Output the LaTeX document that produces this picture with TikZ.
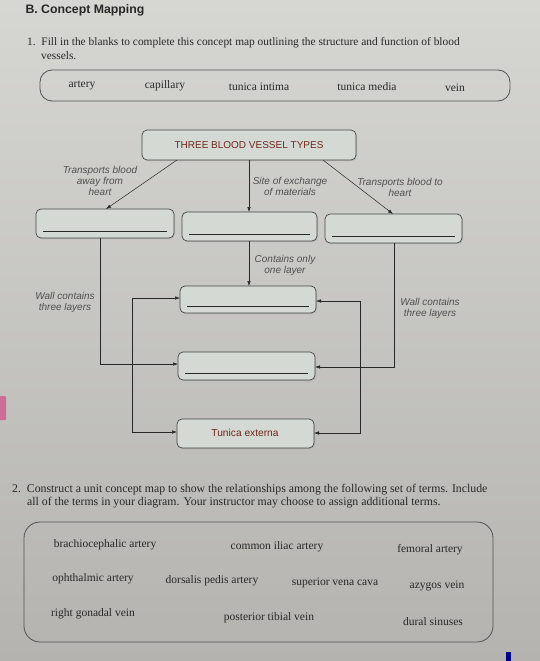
\documentclass[tikz,border=0pt]{standalone}
\usepackage{fontspec}
\setmainfont{Liberation Serif}
\newfontfamily\hv{Liberation Sans}
\usetikzlibrary{arrows.meta,shadows}
\definecolor{papertop}{RGB}{214,214,211}
\definecolor{paperbot}{RGB}{180,179,175}
\definecolor{boxfill}{RGB}{212,217,211}
\definecolor{boxline}{RGB}{70,70,70}
\definecolor{labgray}{RGB}{80,80,80}
\definecolor{darkred}{RGB}{110,40,30}
\definecolor{inkc}{RGB}{40,40,40}
\definecolor{pinkmark}{RGB}{205,110,150}
\tikzset{
  cbox/.style={draw=boxline, line width=0.7pt, fill=boxfill, rounded corners=5pt,
    drop shadow={opacity=0.25, shadow xshift=1pt, shadow yshift=-1pt}},
  lab/.style={font=\hv\itshape\fontsize{10}{11}\selectfont, text=labgray, align=center, inner sep=0pt},
  term/.style={font=\fontsize{11.5}{12}\selectfont, text=inkc, inner sep=0pt},
  conn/.style={draw=inkc, line width=0.5pt},
  arr/.style={conn, -{Latex[length=5pt,width=3.5pt]}},
  blank/.style={draw=inkc, line width=0.6pt},
  termbox/.style={draw=inkc!80, line width=0.8pt, rounded corners=12pt},
  qtext/.style={anchor=west, text=inkc, inner sep=0pt},
}
\begin{document}
\begin{tikzpicture}[x=1pt,y=-1pt]
\useasboundingbox (0,0) rectangle (540,661);
\shade[top color=papertop, bottom color=paperbot] (0,0) rectangle (540,661);
% artifacts
\fill[pinkmark, rounded corners=1pt] (-2,396) rectangle (6,420);
\fill[blue!55!black] (506,652) rectangle (511,661);

% header and question 1
\node[anchor=west, font=\hv\bfseries\fontsize{12.3}{13}\selectfont, text=inkc] (hdr) at (22,10) {B. Concept Mapping};
\node[qtext, font=\fontsize{11.4}{12}\selectfont] (q1a) at (27,43) {1.\ \ Fill in the blanks to complete this concept map outlining the structure and function of blood};
\node[qtext, font=\fontsize{11.4}{12}\selectfont] (q1b) at (41,56) {vessels.};

% term box 1
\draw[termbox] (40,70) rectangle (510,101);
\node[term] (t1) at (82,86) {artery};
\node[term] (t2) at (165,86) {capillary};
\node[term] (t3) at (259,87) {tunica intima};
\node[term] (t4) at (367,87) {tunica media};
\node[term] (t5) at (455,88) {vein};

% concept map
\draw[cbox] (142,130) rectangle (356,160);
\node[font=\hv\fontsize{10}{11}\selectfont, text=darkred] (top) at (249,145) {THREE BLOOD VESSEL TYPES};
\coordinate (topL) at (177,160);
\coordinate (topM) at (249,160);
\coordinate (topR) at (323,160);

\draw[cbox] (36,209) rectangle (174,238);
\draw[blank] (43,231) -- (167,231);
\coordinate (artT) at (106,209);
\coordinate (artB) at (100,238);

\draw[cbox] (182,212) rectangle (317,241);
\draw[blank] (189,234) -- (310,234);
\coordinate (capT) at (249,212);
\coordinate (capB) at (249,241);

\draw[cbox] (325,214) rectangle (462,243);
\draw[blank] (332,236) -- (455,236);
\coordinate (veinT) at (393,214);
\coordinate (veinB) at (394,243);

\draw[arr] (topL) -- (artT);
\draw[arr] (topM) -- (capT);
\draw[arr] (topR) -- (veinT);

\node[lab] (l1) at (100,181) {Transports blood\\away from\\heart};
\node[lab] (l2) at (290,186) {Site of exchange\\of materials};
\node[lab] (l3) at (400,187) {Transports blood to\\heart};

% layers
\draw[cbox] (180,286) rectangle (316,313);
\draw[blank] (187,306) -- (309,306);
\draw[cbox] (178,352) rectangle (315,380);
\draw[blank] (185,373) -- (308,373);
\draw[cbox] (177,419) rectangle (314,448);
\node[font=\hv\fontsize{10.2}{11}\selectfont, text=darkred] (ext) at (245,433) {Tunica externa};

\coordinate (intT) at (249,286);
\draw[arr] (capB) -- (intT);
\node[lab] (l4) at (285,265) {Contains only\\one layer};

% left side
\draw[arr] (artB) -- (100,364) -- (178,364);
\draw[arr] (132,298) -- (180,298);
\draw[arr] (132,298) -- (132,432) -- (177,432);
\node[lab] (l5) at (65,302) {Wall contains\\three layers};

% right side
\draw[arr] (veinB) -- (394,367) -- (315,367);
\draw[arr] (360,301) -- (316,301);
\draw[arr] (360,301) -- (360,433) -- (314,433);
\node[lab] (l6) at (430,308) {Wall contains\\three layers};

% question 2
\node[qtext, font=\fontsize{11.8}{12}\selectfont] (q2a) at (12,490) {2.\ \ Construct a unit concept map to show the relationships among the following set of terms. Include};
\node[qtext, font=\fontsize{11.8}{12}\selectfont] (q2b) at (27,503) {all of the terms in your diagram. Your instructor may choose to assign additional terms.};

\draw[termbox, rounded corners=16pt] (24,522) rectangle (493,642);
\node[term] (u1) at (105,545) {brachiocephalic artery};
\node[term] (u2) at (277,547) {common iliac artery};
\node[term] (u3) at (430,550) {femoral artery};
\node[term] (u4) at (93,579) {ophthalmic artery};
\node[term] (u5) at (212,581) {dorsalis pedis artery};
\node[term] (u6) at (335,583) {superior vena cava};
\node[term] (u7) at (437,586) {azygos vein};
\node[term] (u8) at (93,614) {right gonadal vein};
\node[term] (u9) at (269,618) {posterior tibial vein};
\node[term] (u10) at (433,622) {dural sinuses};
\end{tikzpicture}
\end{document}
